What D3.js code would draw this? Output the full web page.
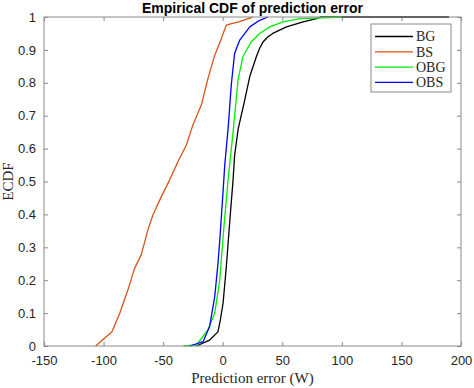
<!DOCTYPE html>
<html>
<head>
<meta charset="utf-8">
<script src="https://cdn.jsdelivr.net/npm/d3@7"></script>
<style>
  body { margin: 0; background: #fff; }
  svg { display: block; }
</style>
</head>
<body>
<div id="ecdf-chart"></div>
<script>
// Series names and colours
const SERIES_NAMES = ["BG", "BS", "OBG", "OBS"];
const SERIES_COLORS = ["#000000", "#D95319", "#00EE00", "#0000FF"];

// Prediction error (W) / ECDF values
const bgError = [-22, -11, -4, -2, 0.3, 3, 6, 8.7, 10, 13, 18.5, 22.7, 28.3, 31, 34, 38, 42, 53.5, 67.5, 78.7, 82, 190];
const bgCdf = [0, 0.018, 0.043, 0.079, 0.13, 0.24, 0.383, 0.505, 0.58, 0.66, 0.748, 0.819, 0.88, 0.905, 0.925, 0.94, 0.95, 0.97, 0.985, 0.995, 1, 1];

const bsError = [-106.7, -93, -86.5, -79.6, -74, -68.4, -62.8, -58.6, -51.5, -44.5, -37.6, -30.5, -25, -17.9, -12.3, -6.7, -1.1, 3, 5.9, 14, 24, 25];
const bsCdf = [0, 0.043, 0.099, 0.17, 0.236, 0.277, 0.353, 0.398, 0.454, 0.505, 0.56, 0.611, 0.672, 0.733, 0.814, 0.884, 0.935, 0.975, 0.978, 0.986, 0.998, 1];

const obgError = [-33, -22, -12.3, -6.7, -2.5, 0.8, 4.5, 8.7, 12.9, 17, 24, 31, 39.5, 50.7, 64.7, 100];
const obgCdf = [0, 0.003, 0.05, 0.1, 0.2, 0.353, 0.505, 0.65, 0.81, 0.88, 0.925, 0.95, 0.97, 0.985, 0.995, 1];

const obsError = [-27.7, -16.5, -11, -6.7, -4, -2.5, 0.3, 1.7, 4.5, 7.3, 10, 14.3, 22.7, 31, 38];
const obsCdf = [0, 0.013, 0.059, 0.15, 0.25, 0.32, 0.47, 0.55, 0.66, 0.798, 0.89, 0.93, 0.97, 0.99, 1];

// Tick values
const xTicks = [-150, -100, -50, 0, 50, 100, 150, 200];
const yTicks = [0, 0.1, 0.2, 0.3, 0.4, 0.5, 0.6, 0.7, 0.8, 0.9, 1];

const WIDTH = 474;
const HEIGHT = 388;
const MARGIN = { top: 17, right: 13, bottom: 42, left: 44 };
const AXIS_COLOR = "#8a8a8a";
const LABEL_COLOR = "#262626";
const TICK_LEN = 4;

const drawEcdfChart = () => {
  const svg = d3
    .select("#ecdf-chart")
    .append("svg")
    .attr("width", WIDTH)
    .attr("height", HEIGHT);

  const plotW = WIDTH - MARGIN.left - MARGIN.right;
  const plotH = HEIGHT - MARGIN.top - MARGIN.bottom;

  // Create Scales
  const x = d3.scaleLinear().domain([-150, 200]).range([MARGIN.left, MARGIN.left + plotW]);
  const y = d3.scaleLinear().domain([0, 1]).range([MARGIN.top + plotH, MARGIN.top]);

  // Build series from arrays
  const series = [
    [bgError, bgCdf],
    [bsError, bsCdf],
    [obgError, obgCdf],
    [obsError, obsCdf],
  ].map(([xs, ys], i) => ({
    name: SERIES_NAMES[i],
    color: SERIES_COLORS[i],
    points: xs.map((v, j) => [v, ys[j]]),
  }));

  // Axes (ticks inside, on all four sides)
  const styleAxis = (g) => {
    g.select(".domain").remove();
    g.selectAll(".tick line").attr("stroke", AXIS_COLOR);
    g.selectAll(".tick text")
      .attr("fill", LABEL_COLOR)
      .style("font-family", "'Liberation Sans', Arial, sans-serif")
      .style("font-size", "13px");
  };

  svg
    .append("g")
    .attr("transform", `translate(0,${MARGIN.top + plotH})`)
    .call(d3.axisBottom(x).tickValues(xTicks).tickSizeInner(-TICK_LEN).tickSizeOuter(0).tickPadding(10).tickFormat((d) => String(d)))
    .call(styleAxis);

  svg
    .append("g")
    .attr("transform", `translate(0,${MARGIN.top})`)
    .call(d3.axisTop(x).tickValues(xTicks).tickSizeInner(-TICK_LEN).tickSizeOuter(0).tickFormat(""))
    .call(styleAxis);

  svg
    .append("g")
    .attr("transform", `translate(${MARGIN.left},0)`)
    .call(d3.axisLeft(y).tickValues(yTicks).tickSizeInner(-TICK_LEN).tickSizeOuter(0).tickPadding(8).tickFormat((d) => (d === 0 || d === 1 ? String(d) : d3.format(".1f")(d))))
    .call(styleAxis);

  svg
    .append("g")
    .attr("transform", `translate(${MARGIN.left + plotW},0)`)
    .call(d3.axisRight(y).tickValues(yTicks).tickSizeInner(-TICK_LEN).tickSizeOuter(0).tickFormat(""))
    .call(styleAxis);

  // Draw Lines
  const line = d3
    .line()
    .x((d) => x(d[0]))
    .y((d) => y(d[1]));

  svg
    .selectAll("path.ecdf-line")
    .data(series)
    .enter()
    .append("path")
    .classed("ecdf-line", true)
    .attr("d", (d) => line(d.points))
    .attr("fill", "none")
    .attr("stroke", (d) => d.color)
    .attr("stroke-width", 1.3)
    .attr("stroke-linejoin", "round");

  // Box
  svg
    .append("rect")
    .attr("x", MARGIN.left)
    .attr("y", MARGIN.top)
    .attr("width", plotW)
    .attr("height", plotH)
    .attr("fill", "none")
    .attr("stroke", AXIS_COLOR)
    .attr("stroke-width", 1);

  // Title
  svg
    .append("text")
    .attr("x", MARGIN.left + plotW / 2)
    .attr("y", 13)
    .attr("text-anchor", "middle")
    .style("font-family", "'Liberation Sans', Arial, sans-serif")
    .style("font-weight", "bold")
    .style("font-size", "14px")
    .text("Empirical CDF of prediction error");

  // Axis Labels
  svg
    .append("text")
    .attr("x", MARGIN.left + plotW / 2)
    .attr("y", 383)
    .attr("text-anchor", "middle")
    .attr("fill", LABEL_COLOR)
    .style("font-family", "'Liberation Serif', 'Times New Roman', serif")
    .style("font-size", "15px")
    .text("Prediction error (W)");

  svg
    .append("text")
    .attr("transform", `translate(13,${MARGIN.top + plotH / 2}) rotate(-90)`)
    .attr("text-anchor", "middle")
    .attr("fill", LABEL_COLOR)
    .style("font-family", "'Liberation Serif', 'Times New Roman', serif")
    .style("font-size", "15px")
    .text("ECDF");

  // Legend
  const legend = svg.append("g").attr("transform", "translate(371,24)");
  legend
    .append("rect")
    .attr("width", 80)
    .attr("height", 68)
    .attr("fill", "#fff")
    .attr("stroke", AXIS_COLOR);

  const legendItems = legend
    .selectAll("g.legend-item")
    .data(series)
    .enter()
    .append("g")
    .classed("legend-item", true)
    .attr("transform", (_, i) => `translate(0,${12.5 + i * 15.3})`);

  legendItems
    .append("line")
    .attr("x1", 4)
    .attr("x2", 42)
    .attr("stroke", (d) => d.color)
    .attr("stroke-width", 1.3);

  legendItems
    .append("text")
    .attr("x", 45)
    .attr("dy", "0.35em")
    .attr("fill", LABEL_COLOR)
    .style("font-family", "'Liberation Serif', 'Times New Roman', serif")
    .style("font-size", "14px")
    .text((d) => d.name);
};

drawEcdfChart();
</script>
</body>
</html>
